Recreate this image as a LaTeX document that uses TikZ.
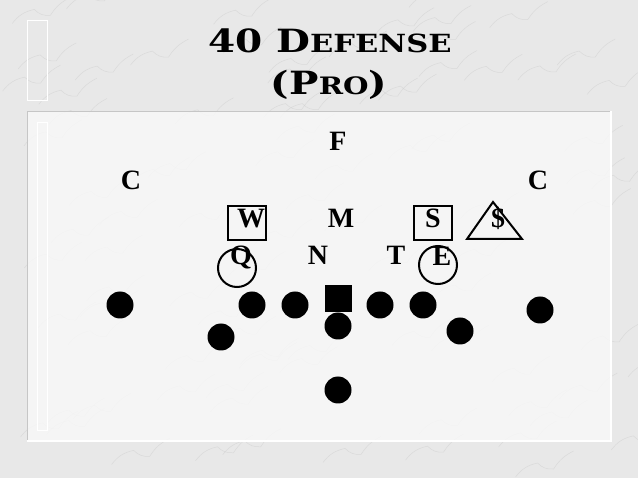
\documentclass[tikz,border=0pt]{standalone}
\usepackage{fontspec}
\setmainfont{Liberation Serif}
\newfontfamily\titlefont[FakeStretch=1.22]{DejaVu Serif}
\usetikzlibrary{positioning}

\begin{document}
\begin{tikzpicture}[x=1pt, y=-1pt, node distance={43pt}, thick,
  man/.style = {circle, fill=black, inner sep=0pt, minimum size=27pt},
  ctr/.style = {rectangle, fill=black, inner sep=0pt, minimum size=27pt},
  lbl/.style = {anchor=base, inner sep=0pt, font=\fontsize{28}{30}\selectfont\bfseries},
  boxed/.style = {draw, line width=2pt, minimum width=38pt, minimum height=34pt, inner sep=0pt},
  ringed/.style = {draw, circle, line width=2pt, minimum size=38pt, inner sep=0pt}]
\useasboundingbox (0,0) rectangle (638,478);
% marble background
\fill[gray!18] (0,0) rectangle (638,478);
\pgfmathsetseed{7}
\foreach \i in {1,...,90}{
  \pgfmathsetmacro{\xa}{rnd*638}
  \pgfmathsetmacro{\ya}{rnd*478}
  \draw[gray!40, line width=0.5pt, opacity=0.5]
    (\xa,\ya) to[bend left=20] ++(22,-14) to[bend right=25] ++(16,6) to[bend left=15] ++(20,-18);
}
\fill[gray!5, opacity=0.8] (27,111) rectangle (611,441);
\draw[gray!45, line width=0.8pt] (27,441) |- (611,111);
\draw[white, line width=1.2pt] (27,441) -| (611,111);
\draw[white, line width=0.8pt] (27,20) rectangle (47,100);
\draw[white, line width=0.8pt] (37,122) rectangle (47,430);

% title
\node[anchor=base, inner sep=0pt, font=\titlefont\bfseries] (t1) at (330,53)
  {\fontsize{32}{34}\selectfont 40 D\fontsize{25}{27}\selectfont EFENSE};
\node[anchor=base, inner sep=0pt, font=\titlefont\bfseries] (t2) at (329,95)
  {\fontsize{32}{34}\selectfont (P\fontsize{24}{26}\selectfont RO\fontsize{32}{34}\selectfont )};

% defense
\node[lbl] (F) at (338,151) {F};
\node[lbl] (C1) at (131,190) {C};
\node[lbl] (C2) at (538,190) {C};
\node[boxed] (Wb) at (247,223) {};
\node[lbl] (W) at (251,228) {W};
\node[lbl] (M) at (341,228) {M};
\node[boxed] (Sb) at (433,223) {};
\node[lbl] (S) at (433,228) {S};
\draw[line width=2pt] (467,239) -- (493,202) -- (522,239) -- cycle;
\node[lbl] (D) at (498,228) {\$};
\node[ringed] (Qr) at (237,268) {};
\node[lbl] (Q) at (241,265) {Q};
\node[lbl] (N) at (318,265) {N};
\node[lbl] (T) at (396,265) {T};
\node[ringed] (Er) at (438,265) {};
\node[lbl] (E) at (442,266) {E};

% offense
\node[ctr] (c) at (338,299) {};
\node[man] (g1) at (295,305) {};
\node[man] (t1o) [left of=g1] {};
\node[man] (g2) at (380,305) {};
\node[man] (t2o) [right of=g2] {};
\node[man] (qb) at (338,326) {};
\node[man] (rb) at (338,390) {};
\node[man] (te) at (221,337) {};
\node[man] (wr1) at (120,305) {};
\node[man] (wr2) at (460,331) {};
\node[man] (wr3) at (540,310) {};
\end{tikzpicture}
\end{document}
